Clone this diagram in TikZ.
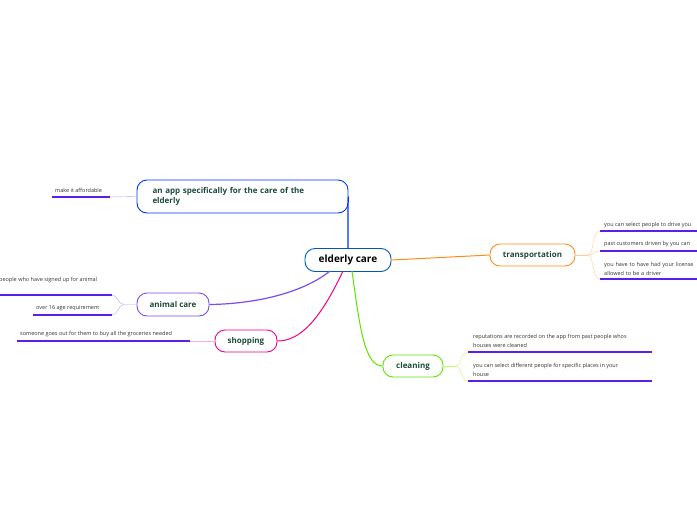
\documentclass[tikz,border=0pt]{standalone}
\usepackage{fontspec}
\setmainfont{Open Sans}
\definecolor{tg}{HTML}{1D4A3A}
\definecolor{pu}{HTML}{5B1FE6}
\begin{document}
\begin{tikzpicture}[x=1pt,y=-1pt,
 topic/.style={draw,rounded corners=10pt,line width=0.9pt,font=\fontsize{8}{10}\selectfont\bfseries,text=tg,inner sep=0pt},
 leaf/.style={font=\fontsize{5.5}{9}\selectfont,text=black!80,anchor=south west,align=left,inner sep=0pt},
 ul/.style={pu,line width=1.2pt}]
\useasboundingbox (0,0) rectangle (697,520);
\node[draw=blue!50!cyan!70!black,rounded corners=10pt,line width=0.9pt,minimum width=86pt,minimum height=23pt,font=\fontsize{10}{12}\selectfont\bfseries,inner sep=0pt] (c) at (348,260) {elderly care};
\node[topic,draw=blue!80!cyan,minimum width=211pt,minimum height=33pt,align=left,text width=180pt] (app) at (242.5,196.5) {an app specifically for the care of the\\elderly};
\node[topic,draw=pu!80,minimum width=72pt,minimum height=23pt] (an) at (173,304.5) {animal care};
\node[topic,draw=magenta,minimum width=62pt,minimum height=22pt] (sh) at (246,341) {shopping};
\node[topic,draw=orange!90,minimum width=85pt,minimum height=22pt] (tr) at (532.5,255) {transportation};
\node[topic,draw=green!60!yellow!90!black,minimum width=60pt,minimum height=22pt] (cl) at (413,366) {cleaning};
% main connectors
\draw[blue!80!cyan,line width=1.2pt] (c.north) -- (348,205) -- (app.east);
\draw[pu!80,line width=1.2pt] (330,271) .. controls (300,295) and (250,304) .. (an.east);
\draw[magenta,line width=1pt] (343,271) .. controls (320,320) and (300,341) .. (sh.east);
\draw[orange!90,line width=1pt] (c.east) -- (tr.west);
\draw[green!60!yellow!90!black,line width=1pt] (352,271) .. controls (360,330) and (365,366) .. (cl.west);
% app leaf
\node[leaf] (l1) at (55,193) {make it affordable};
\coordinate (u1a) at (52,197); \coordinate (u1b) at (110,197);
\draw[ul] (u1a) -- (u1b); \draw[pu!40] (u1b) -- (app.west);
% animal leaves
\node[leaf] (l2) at (-1,283) {people who have signed up for animal};
\node[leaf] (l3) at (36,311) {over 16 age requirement};
\coordinate (u2a) at (0,295); \coordinate (u2b) at (112,295);
\coordinate (u3a) at (33,315); \coordinate (u3b) at (112,315);
\draw[ul] (u2a) -- (u2b); \draw[ul] (u3a) -- (u3b);
\coordinate (ab) at (124,304.5);
\draw[pu!40] (an.west) -- (ab) .. controls (118,304.5) and (118,295) .. (u2b);
\draw[pu!40] (ab) .. controls (118,304.5) and (118,315) .. (u3b);
% shopping leaf
\node[leaf] (l4) at (20,337) {someone goes out for them to buy all the groceries needed};
\coordinate (u4a) at (17,341); \coordinate (u4b) at (190,341);
\draw[ul] (u4a) -- (u4b); \draw[magenta!30] (u4b) -- (sh.west);
% transportation leaves
\node[leaf] (l5) at (604,228) {you can select people to drive you};
\node[leaf] (l6) at (604,247) {past customers driven by you can};
\node[leaf,text width=120pt] (l7) at (604,276) {you have to have had your license\\allowed to be a driver};
\coordinate (u5) at (600,231); \coordinate (u6) at (600,251); \coordinate (u7) at (600,279);
\draw[ul] (u5) -- (697,231); \draw[ul] (u6) -- (697,251); \draw[ul] (u7) -- (697,279);
\coordinate (tb) at (588,255);
\draw[orange!40] (tr.east) -- (tb);
\draw[orange!40] (tb) .. controls (594,255) and (592,231) .. (u5);
\draw[orange!40] (tb) .. controls (594,255) and (594,251) .. (u6);
\draw[orange!40] (tb) .. controls (594,255) and (592,279) .. (u7);
% cleaning leaves
\node[leaf] (l8) at (473,348) {reputations are recorded on the app from past people whos\\houses were cleaned};
\node[leaf] (l9) at (473,377) {you can select different people for specific places in your\\house};
\coordinate (u8a) at (468,352); \coordinate (u8b) at (652,352);
\coordinate (u9a) at (468,381); \coordinate (u9b) at (652,381);
\draw[ul] (u8a) -- (u8b); \draw[ul] (u9a) -- (u9b);
\coordinate (cb) at (456,366);
\draw[green!40!yellow!60] (cl.east) -- (cb);
\draw[green!40!yellow!60] (cb) .. controls (462,366) and (460,352) .. (u8a);
\draw[green!40!yellow!60] (cb) .. controls (462,366) and (460,381) .. (u9a);
\end{tikzpicture}
\end{document}
